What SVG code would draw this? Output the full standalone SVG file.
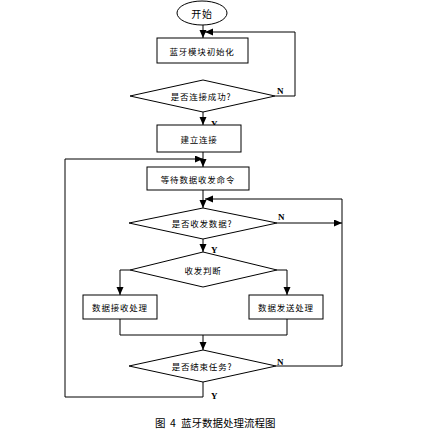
<svg xmlns="http://www.w3.org/2000/svg" width="442" height="438" viewBox="0 0 442 438">
<style>
.s{fill:#fff;stroke:#000;stroke-width:1}
.c{fill:none;stroke:#000;stroke-width:1}
.t{font-family:"Noto Sans CJK SC","Liberation Sans",sans-serif;font-size:8.5px;letter-spacing:0.8px;text-anchor:middle;dominant-baseline:central;fill:#000}
.l{font-family:"Liberation Serif",serif;font-size:9px;font-weight:bold;fill:#000}
.cap{font-family:"Noto Sans CJK SC","Liberation Sans",sans-serif;font-size:10.5px;fill:#000}
</style>
<defs>
<marker id="a" markerUnits="userSpaceOnUse" markerWidth="9" markerHeight="8" refX="8" refY="3.5" orient="auto"><path d="M0,0 L8,3.5 L0,7 z" fill="#000"/></marker>
</defs>
<rect width="442" height="438" fill="#fff"/>
<g id="connectors">
<path class="c" d="M203,25 V38" marker-end="url(#a)"/>
<path class="c" d="M275,96 H295 V32 H205" marker-end="url(#a)"/>
<path class="c" d="M203,112 V125" marker-end="url(#a)"/>
<path class="c" d="M203,152 V167" marker-end="url(#a)"/>
<path class="c" d="M203,382 V397 H65 V159 H203" marker-end="url(#a)"/>
<path class="c" d="M203,190 V208" marker-end="url(#a)"/>
<path class="c" d="M276,366 H342 V199 H205" marker-end="url(#a)"/>
<path class="c" d="M277,223 H342" marker-end="url(#a)"/>
<path class="c" d="M203,239 V252" marker-end="url(#a)"/>
<path class="c" d="M130,270 H120 V295" marker-end="url(#a)"/>
<path class="c" d="M277,270 H287 V295" marker-end="url(#a)"/>
<path class="c" d="M120,319 V335 H287 V319"/>
<path class="c" d="M203,335 V350" marker-end="url(#a)"/>
<text class="l" x="277" y="94">N</text>
<text class="l" x="211" y="127">Y</text>
<text class="l" x="278" y="220">N</text>
<text class="l" x="211" y="253">Y</text>
<text class="l" x="277" y="365">N</text>
<text class="l" x="211" y="399">Y</text>
</g>
<g id="start"><ellipse class="s" cx="202" cy="13" rx="25" ry="12"/><text class="t" x="202" y="13" style="font-size:10px">开始</text></g>
<g id="init"><rect class="s" x="157" y="38" width="91" height="25"/><text class="t" x="202" y="50.5">蓝牙模块初始化</text></g>
<g id="d1"><polygon class="s" points="130,96 203,80 275,96 203,112"/><text class="t" x="201" y="96">是否连接成功?</text></g>
<g id="connect"><rect class="s" x="157" y="125" width="84" height="27"/><text class="t" x="199" y="138.5">建立连接</text></g>
<g id="wait"><rect class="s" x="147" y="167" width="102" height="23"/><text class="t" x="198" y="178.5">等待数据收发命令</text></g>
<g id="d2"><polygon class="s" points="129,223 203,208 277,223 203,239"/><text class="t" x="202" y="223">是否收发数据?</text></g>
<g id="d3"><polygon class="s" points="130,270 203,252 277,270 203,287"/><text class="t" x="203" y="270">收发判断</text></g>
<g id="recv"><rect class="s" x="83" y="295" width="74" height="24"/><text class="t" x="120" y="307">数据接收处理</text></g>
<g id="send"><rect class="s" x="249" y="295" width="74" height="24"/><text class="t" x="286" y="307">数据发送处理</text></g>
<g id="d4"><polygon class="s" points="129,366 203,350 276,366 203,382"/><text class="t" x="202" y="366">是否结束任务?</text></g>
<g id="caption"><text class="cap" y="427"><tspan x="155">图</tspan><tspan x="170">4</tspan><tspan x="181">蓝牙数据处理流程图</tspan></text></g>
</svg>
